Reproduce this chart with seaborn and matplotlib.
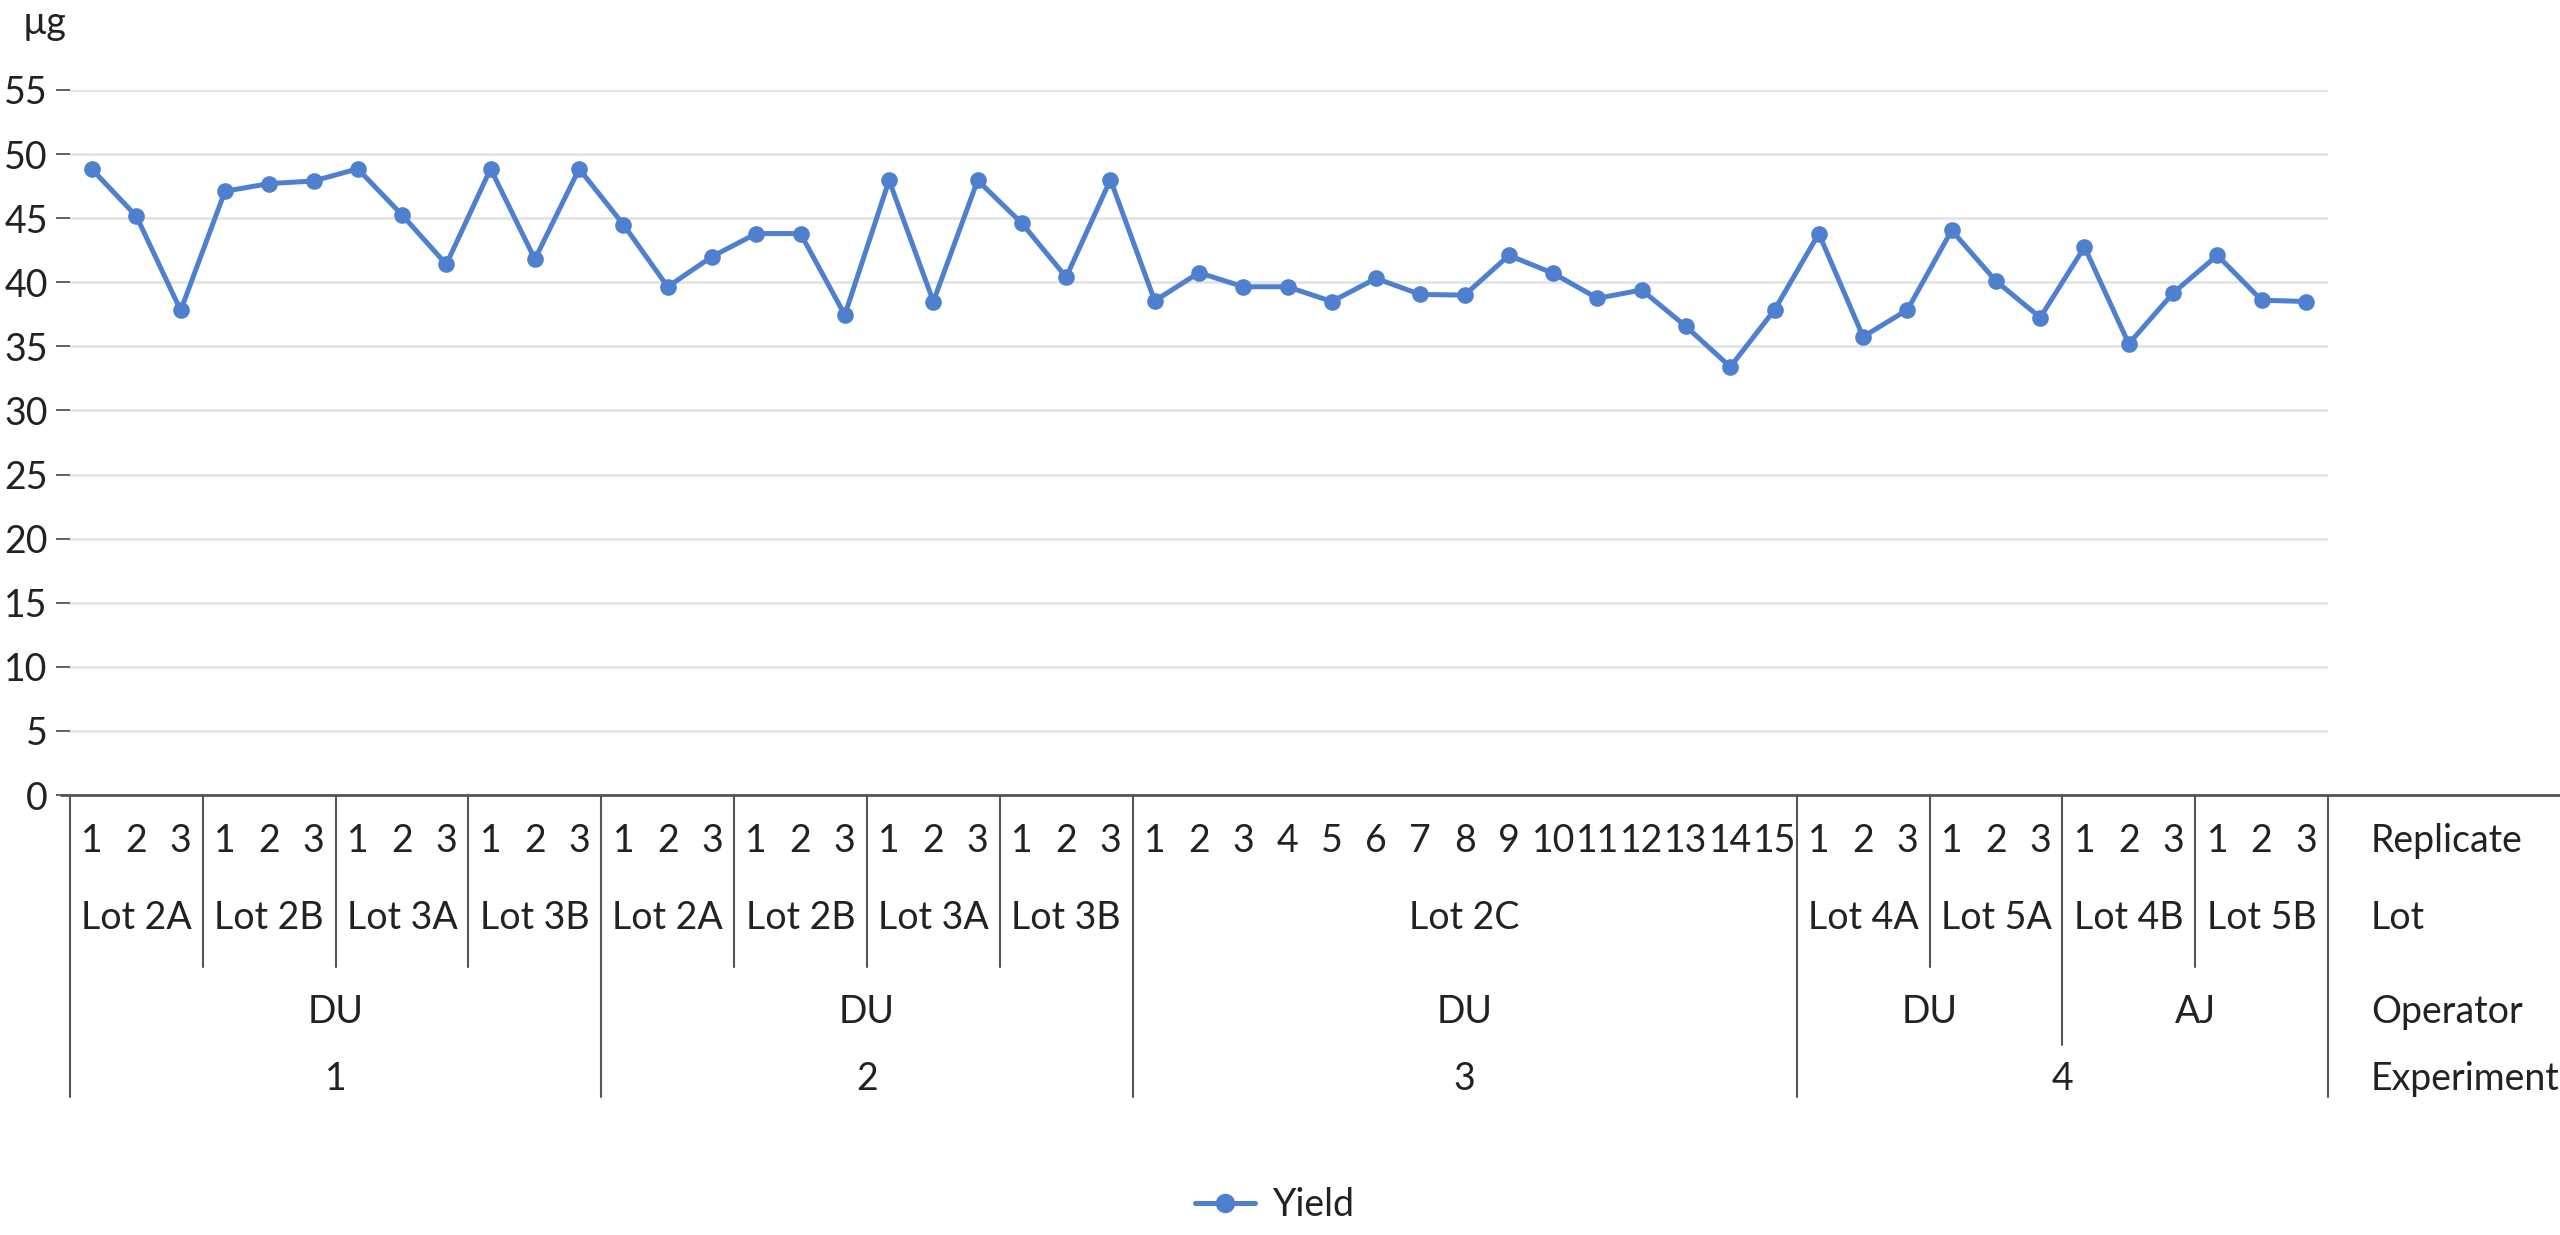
import numpy as np
import pandas as pd
import seaborn as sns
import matplotlib.pyplot as plt

# Yield per run (µg)
yield_ug = [48.8, 45.15, 37.8, 47.1, 47.7, 47.9, 48.85, 45.25, 41.4, 48.85, 41.8, 48.85,
            44.5, 39.65, 42.0, 43.8, 43.8, 37.45, 47.95, 38.5, 47.95, 44.6, 40.4, 48.0,
            38.55, 40.75, 39.65, 39.65, 38.5, 40.3, 39.05, 39.0, 42.1, 40.7, 38.75, 39.4,
            36.55, 33.4, 37.85,
            43.8, 35.75, 37.85, 44.05, 40.1, 37.25, 42.75, 35.2, 39.15, 42.1, 38.6, 38.5]

replicates = ['1', '2', '3', '1', '2', '3', '1', '2', '3', '1', '2', '3',
              '1', '2', '3', '1', '2', '3', '1', '2', '3', '1', '2', '3',
              '1', '2', '3', '4', '5', '6', '7', '8', '9', '10', '11', '12', '13', '14', '15',
              '1', '2', '3', '1', '2', '3', '1', '2', '3', '1', '2', '3']

lots = ['Lot 2A', 'Lot 2B', 'Lot 3A', 'Lot 3B', 'Lot 2A', 'Lot 2B', 'Lot 3A', 'Lot 3B',
        'Lot 2C', 'Lot 4A', 'Lot 5A', 'Lot 4B', 'Lot 5B']
lot_sizes = [3, 3, 3, 3, 3, 3, 3, 3, 15, 3, 3, 3, 3]
operators = ['DU', 'DU', 'DU', 'DU', 'AJ']
operator_sizes = [12, 12, 15, 6, 6]
experiments = ['1', '2', '3', '4']
experiment_sizes = [12, 12, 15, 12]

row_titles = ['Replicate', 'Lot', 'Operator', 'Experiment']

df = pd.DataFrame({'pos': np.arange(len(yield_ug)), 'Yield': yield_ug})

sns.set_theme(style='white')
plt.rcParams['font.family'] = ['Lato', 'DejaVu Sans']

blue = '#4f80d0'
ink = '#222222'
rule = '#555555'
fs = 27

fig = plt.figure(figsize=(25.6, 12.35), dpi=100)
ax = fig.add_axes([70 / 2560, 1 - 795 / 1235, 2258 / 2560, 705 / 1235])

sns.lineplot(data=df, x='pos', y='Yield', ax=ax, color=blue, linewidth=3.6,
             marker='o', markersize=12, markeredgewidth=0, label='Yield', legend=False)

ax.set_xlim(-0.5, len(yield_ug) - 0.5)
ax.set_ylim(0, 55)
ax.set_yticks(range(0, 56, 5))
ax.set_xticks([])
ax.set_xlabel('')
ax.set_ylabel('')
for s in ax.spines.values():
    s.set_visible(False)
ax.grid(axis='y', color='#e4e4e4', linewidth=2)
ax.tick_params(axis='y', length=10, width=1.3, color=rule, labelsize=fs,
               labelcolor=ink, pad=6, left=True)
ax.set_axisbelow(True)

ax.text(-0.021, 1.095, 'µg', transform=ax.transAxes, fontsize=fs, color=ink,
        ha='left', va='center')

# bottom rule running through the label column
ax.plot([-0.004, 1.105], [0, 0], transform=ax.transAxes, color=rule,
        linewidth=2, clip_on=False)

bx = ax.get_xaxis_transform()
row_y = [-0.065, -0.174, -0.308, -0.403]
lot_len, op_len, exp_len = -0.244, -0.355, -0.428


def edges(sizes):
    return list(np.cumsum([0] + sizes) - 0.5)


# replicate labels
for i, r in enumerate(replicates):
    ax.text(i, row_y[0], r, transform=bx, ha='center', va='center', fontsize=fs, color=ink)

# group labels
for names, sizes, ry in [(lots, lot_sizes, row_y[1]),
                         (operators, operator_sizes, row_y[2]),
                         (experiments, experiment_sizes, row_y[3])]:
    e = edges(sizes)
    for k, name in enumerate(names):
        ax.text((e[k] + e[k + 1]) / 2, ry, name, transform=bx, ha='center', va='center',
                fontsize=fs, color=ink)

# separators, longest wins
sep = {}
for sizes, depth in [(lot_sizes, lot_len), (operator_sizes, op_len), (experiment_sizes, exp_len)]:
    for xe in edges(sizes):
        sep[round(xe, 2)] = min(sep.get(round(xe, 2), 0), depth)
for xe, depth in sep.items():
    ax.plot([xe, xe], [0, depth], transform=bx, color=rule, linewidth=1.5, clip_on=False)

for t, ry in zip(row_titles, row_y):
    ax.text(1.019, ry, t, transform=ax.transAxes, ha='left', va='center',
            fontsize=fs, color=ink)

handles = [plt.Line2D([], [], color=blue, linewidth=3.6, marker='o', markersize=14,
                      markeredgewidth=0)]
fig.legend(handles, ['Yield'], loc='center', bbox_to_anchor=(1275 / 2560, 1 - 1205 / 1235),
           frameon=False, fontsize=fs, handlelength=1.6, handletextpad=0.5, labelcolor=ink)

fig.savefig('out.png', dpi=100, facecolor='white')
